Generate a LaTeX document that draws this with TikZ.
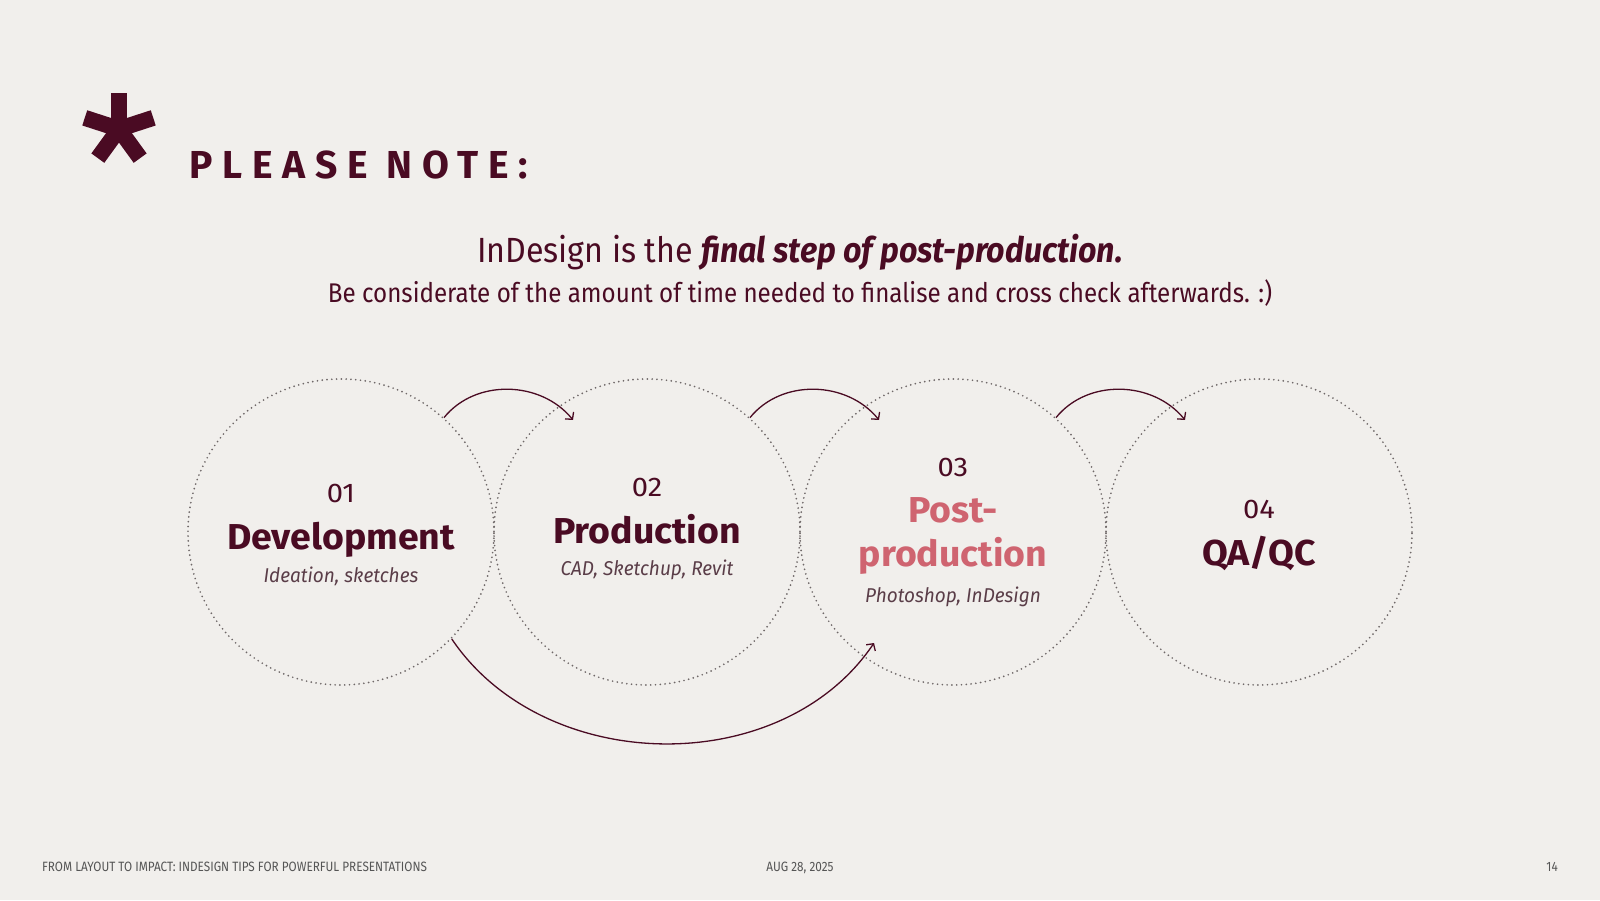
\documentclass[tikz,border=0pt]{standalone}
\usepackage{fontspec}
\setmainfont{Fira Sans}
\usetikzlibrary{arrows.meta,calc}
\definecolor{bg}{HTML}{F1EFEC}
\definecolor{maroon}{HTML}{4A0B23}
\definecolor{rose}{HTML}{CF6470}
\definecolor{subc}{HTML}{5A3D48}
\definecolor{dotc}{HTML}{6F6868}
\definecolor{footc}{HTML}{555555}
\begin{document}
\begin{tikzpicture}[x=1pt,y=1pt,
  ring/.style={circle,draw=dotc,line width=1.9pt,dash pattern=on 0pt off 4.8pt,line cap=round,minimum size=306pt,inner sep=0pt},
  num/.style={anchor=base,text=maroon,font=\fontsize{27}{30}\selectfont\addfontfeature{FakeStretch=1.08}},
  lbl/.style={anchor=base,text=maroon,font=\fontsize{36}{40}\selectfont\bfseries\addfontfeature{FakeStretch=1.04}},
  tool/.style={anchor=base,text=subc,font=\fontsize{20}{24}\selectfont\itshape\addfontfeature{FakeStretch=0.95}},
  flow/.style={draw=maroon,line width=1.3pt,-{Straight Barb[length=5pt,width=11pt]}},
  foot/.style={anchor=base,text=footc,font=\fontsize{13.5}{15}\selectfont\addfontfeature{FakeStretch=0.87}},
  ]
\fill[bg] (0,0) rectangle (1600,900);
\useasboundingbox (0,0) rectangle (1600,900);

% asterisk
\coordinate (ast) at (119,771);
\foreach \a in {90,162,234,306,18} {
  \fill[maroon,shift={(ast)},rotate=\a] (0,-8) rectangle (36,8);
}
\node[anchor=base west,text=maroon,inner sep=0pt,
  font=\fontsize{39}{42}\selectfont\bfseries\addfontfeature{LetterSpace=25}] (title) at (189,721) {PLEASE NOTE:};

\node[anchor=base,text=maroon,inner sep=0pt,font=\fontsize{35}{40}\selectfont\addfontfeature{FakeStretch=0.92}] (line1) at (800,637)
  {InDesign is the \textbf{\itshape final step of post-production.}};
\node[anchor=base,text=maroon,inner sep=0pt,font=\fontsize{27}{30}\selectfont\addfontfeature{FakeStretch=0.895}] (line2) at (800,597)
  {Be considerate of the amount of time needed to finalise and cross check afterwards. :)};

% circles
\node[ring] (c1) at (341,368) {};
\node[ring] (c2) at (647,368) {};
\node[ring] (c3) at (953,368) {};
\node[ring] (c4) at (1259,368) {};

\node[num] (n1) at (341,397) {01};
\node[lbl] (l1) at (341,350) {Development};
\node[tool] (t1) at (341,317) {Ideation, sketches};

\node[num] (n2) at (647,403) {02};
\node[lbl] (l2) at (647,356) {Production};
\node[tool] (t2) at (647,324) {CAD, Sketchup, Revit};

\node[num] (n3) at (953,423) {03};
\node[lbl,text=rose] (l3a) at (953,377) {Post-};
\node[lbl,text=rose] (l3b) at (953,333) {production};
\node[tool] (t3) at (953,297) {Photoshop, InDesign};

\node[num] (n4) at (1259,381) {04};
\node[lbl] (l4) at (1259,334) {QA/QC};

% arrows
\coordinate (e2) at ([shift={(-74,112)}]c2.center);
\coordinate (e3) at ([shift={(-74,112)}]c3.center);
\coordinate (e4) at ([shift={(-74,112)}]c4.center);
\coordinate (eb) at ([shift={(-79,-111)}]c3.center);
\draw[flow] (c1.48) to[out=51,in=129] (e2);
\draw[flow] (c2.48) to[out=51,in=129] (e3);
\draw[flow] (c3.48) to[out=51,in=129] (e4);
\draw[flow] (c1.-44) to[out=-56,in=-124] (eb);

% footer
\node[foot,anchor=base west,inner sep=0pt] (f1) at (42,29) {FROM LAYOUT TO IMPACT: INDESIGN TIPS FOR POWERFUL PRESENTATIONS};
\node[foot,inner sep=0pt] (f2) at (800,29) {AUG 28, 2025};
\node[foot,anchor=base east,inner sep=0pt] (f3) at (1558,29) {14};
\end{tikzpicture}
\end{document}
